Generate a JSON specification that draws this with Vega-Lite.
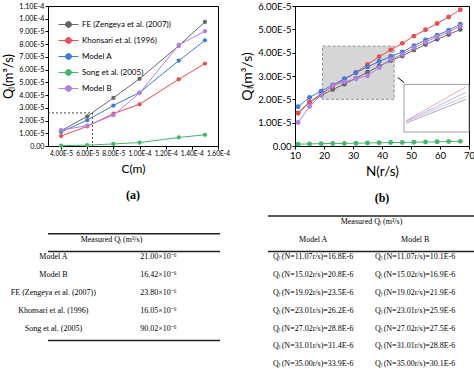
{
  "$schema": "https://vega.github.io/schema/vega-lite/v6.json",
  "padding": {"left": 2, "top": 0, "right": 0, "bottom": 0},
  "background": "white",
  "config": {
    "font": "Lato",
    "view": {"stroke": "#000", "strokeWidth": 1},
    "axis": {"domainColor": "#000", "tickColor": "#000", "labelColor": "#000", "titleColor": "#000", "grid": false, "tickSize": 3, "labelFont": "Lato", "titleFont": "Lato", "titleFontWeight": "normal", "labelPadding": 1, "labelFlush": false}
  },
  "columns": 1,
  "spacing": 8,
  "concat": [
    {
      "bounds": "flush",
      "spacing": 77,
      "hconcat": [
        {
          "width": 170,
          "height": 140,
          "title": {"text": "(a)", "orient": "bottom", "offset": 15, "font": "Liberation Serif", "fontSize": 12, "fontWeight": "bold", "color": "#000"},
          "encoding": {
            "x": {"field": "C", "type": "quantitative", "title": "C(m)",
              "scale": {"domain": [3e-5, 1.6e-4], "nice": false, "zero": false},
              "axis": {"values": [4e-5, 6e-5, 8e-5, 1e-4, 1.2e-4, 1.4e-4, 1.6e-4], "labelFontSize": 6.6, "labelOverlap": false, "labelBound": false, "titleFontSize": 12, "titlePadding": 7,
                "labelExpr": "datum.value == 0 ? '0.00' : replace(format(datum.value, '.2e'), 'e', 'E')"}},
            "y": {"field": "Q", "type": "quantitative", "title": "Qₗ(m³/s)",
              "scale": {"domain": [0, 1.1e-4], "nice": false},
              "axis": {"values": [0, 1e-5, 2e-5, 3e-5, 4e-5, 5e-5, 6e-5, 7e-5, 8e-5, 9e-5, 1e-4, 1.1e-4], "labelFontSize": 7.2, "labelOverlap": false, "titleFontSize": 13, "titlePadding": 3,
                "labelExpr": "datum.value == 0 ? '0.00' : replace(format(datum.value, '.2e'), 'e', 'E')"}}
          },
          "layer": [
            {
              "data": {"values": [
                {"C": 3e-5, "C2": 6.4e-5, "Q": 2.6e-5, "Q2": 2.6e-5},
                {"C": 6.4e-5, "C2": 6.4e-5, "Q": 2.6e-5, "Q2": 0}
              ]},
              "mark": {"type": "rule", "strokeDash": [2, 2], "color": "#444", "strokeWidth": 1},
              "encoding": {"x2": {"field": "C2"}, "y2": {"field": "Q2"}}
            },
            {
              "data": {"values": [
                {"C": 4e-5, "FE": 1.2e-5, "Khonsari": 0.78e-5, "ModelA": 1.1e-5, "Song": 0.02e-5, "ModelB": 1.25e-5},
                {"C": 6e-5, "FE": 2.33e-5, "Khonsari": 1.55e-5, "ModelA": 2.03e-5, "Song": 0.07e-5, "ModelB": 1.6e-5},
                {"C": 8e-5, "FE": 3.78e-5, "Khonsari": 2.54e-5, "ModelA": 3.18e-5, "Song": 0.16e-5, "ModelB": 2.42e-5},
                {"C": 1e-4, "FE": 5.28e-5, "Khonsari": 3.28e-5, "ModelA": 4.2e-5, "Song": 0.27e-5, "ModelB": 4.15e-5},
                {"C": 1.3e-4, "FE": 7.88e-5, "Khonsari": 5.24e-5, "ModelA": 6.7e-5, "Song": 0.67e-5, "ModelB": 7.94e-5},
                {"C": 1.5e-4, "FE": 9.75e-5, "Khonsari": 6.48e-5, "ModelA": 8.3e-5, "Song": 0.88e-5, "ModelB": 9.02e-5}
              ]},
              "transform": [{"fold": ["FE", "Khonsari", "ModelA", "Song", "ModelB"], "as": ["series", "Q"]}],
              "mark": {"type": "line", "strokeWidth": 1, "point": {"filled": true, "size": 18}},
              "encoding": {
                "color": {"field": "series", "type": "nominal",
                  "scale": {"domain": ["FE", "Khonsari", "ModelA", "Song", "ModelB"], "range": ["#666666", "#ee4b4f", "#3b7ddd", "#3fb96a", "#b47ee5"]},
                  "legend": {"orient": "none", "legendX": 10, "legendY": 8, "title": null, "labelFontSize": 8, "labelFont": "Lato", "labelColor": "#000",
                    "symbolType": "M-1,0L1,0M0.3,0A0.3,0.3,0,1,1,-0.3,0A0.3,0.3,0,1,1,0.3,0", "symbolSize": 400, "symbolStrokeWidth": 1,
                    "rowPadding": -7.6, "labelOffset": 3, "padding": 0,
                    "labelExpr": "datum.label == 'FE' ? 'FE (Zengeya et al. (2007))' : datum.label == 'Khonsari' ? 'Khonsari et al. (1996)' : datum.label == 'ModelA' ? 'Model A' : datum.label == 'Song' ? 'Song et al. (2005)' : 'Model B'"}}
              }
            }
          ]
        },
        {
          "width": 174,
          "height": 140,
          "title": {"text": "(b)", "orient": "bottom", "offset": 15, "font": "Liberation Serif", "fontSize": 12, "fontWeight": "bold", "color": "#000"},
          "encoding": {
            "x": {"field": "N", "type": "quantitative", "title": "N(r/s)",
              "scale": {"domain": [10, 70], "nice": false, "zero": false},
              "axis": {"values": [10, 20, 30, 40, 50, 60, 70], "labelFontSize": 9.5, "titleFontSize": 13.5, "titlePadding": 5}},
            "y": {"field": "Q", "type": "quantitative", "title": "Qₗ(m³/s)",
              "scale": {"domain": [0, 6e-5], "nice": false},
              "axis": {"values": [0, 1e-5, 2e-5, 3e-5, 4e-5, 5e-5, 6e-5], "labelFontSize": 9.5, "titleFontSize": 14, "titlePadding": 3,
                "labelExpr": "datum.value == 0 ? '0.00' : replace(format(datum.value, '.2e'), 'e', 'E')"}}
          },
          "layer": [
            {
              "data": {"values": [{"N": 19.5, "N2": 44.2, "Q": 2.0e-5, "Q2": 4.28e-5}]},
              "mark": {"type": "rect", "fill": "#d2d2d2", "fillOpacity": 0.9, "stroke": "#777", "strokeDash": [3, 2], "strokeWidth": 0.8},
              "encoding": {"x2": {"field": "N2"}, "y2": {"field": "Q2"}}
            },
            {
              "data": {"values": [
                {"N": 11.07, "FE": 1.42e-5, "Khonsari": 1.4e-5, "ModelA": 1.68e-5, "Song": 0.08e-5, "ModelB": 1.01e-5},
                {"N": 15.02, "FE": 1.88e-5, "Khonsari": 1.87e-5, "ModelA": 2.08e-5, "Song": 0.09e-5, "ModelB": 1.69e-5},
                {"N": 19.02, "FE": 2.17e-5, "Khonsari": 2.25e-5, "ModelA": 2.35e-5, "Song": 0.1e-5, "ModelB": 2.19e-5},
                {"N": 23.01, "FE": 2.42e-5, "Khonsari": 2.55e-5, "ModelA": 2.62e-5, "Song": 0.11e-5, "ModelB": 2.59e-5},
                {"N": 27.02, "FE": 2.65e-5, "Khonsari": 2.85e-5, "ModelA": 2.88e-5, "Song": 0.11e-5, "ModelB": 2.75e-5},
                {"N": 31.01, "FE": 2.9e-5, "Khonsari": 3.15e-5, "ModelA": 3.14e-5, "Song": 0.12e-5, "ModelB": 2.88e-5},
                {"N": 35.0, "FE": 3.16e-5, "Khonsari": 3.5e-5, "ModelA": 3.39e-5, "Song": 0.13e-5, "ModelB": 3.01e-5},
                {"N": 39, "FE": 3.42e-5, "Khonsari": 3.83e-5, "ModelA": 3.62e-5, "Song": 0.14e-5, "ModelB": 3.36e-5},
                {"N": 43, "FE": 3.66e-5, "Khonsari": 4.12e-5, "ModelA": 3.84e-5, "Song": 0.15e-5, "ModelB": 3.72e-5},
                {"N": 47, "FE": 3.86e-5, "Khonsari": 4.4e-5, "ModelA": 4.03e-5, "Song": 0.15e-5, "ModelB": 3.93e-5},
                {"N": 51, "FE": 4.11e-5, "Khonsari": 4.71e-5, "ModelA": 4.3e-5, "Song": 0.16e-5, "ModelB": 4.21e-5},
                {"N": 55, "FE": 4.35e-5, "Khonsari": 4.98e-5, "ModelA": 4.54e-5, "Song": 0.17e-5, "ModelB": 4.45e-5},
                {"N": 59, "FE": 4.57e-5, "Khonsari": 5.25e-5, "ModelA": 4.75e-5, "Song": 0.18e-5, "ModelB": 4.68e-5},
                {"N": 63, "FE": 4.78e-5, "Khonsari": 5.53e-5, "ModelA": 4.96e-5, "Song": 0.19e-5, "ModelB": 4.88e-5},
                {"N": 67, "FE": 4.99e-5, "Khonsari": 5.84e-5, "ModelA": 5.22e-5, "Song": 0.2e-5, "ModelB": 5.13e-5}
              ]},
              "transform": [{"fold": ["FE", "Khonsari", "ModelA", "Song", "ModelB"], "as": ["series", "Q"]}],
              "mark": {"type": "line", "strokeWidth": 1, "point": {"filled": true, "size": 24}},
              "encoding": {
                "color": {"field": "series", "type": "nominal",
                  "scale": {"domain": ["FE", "Khonsari", "ModelA", "Song", "ModelB"], "range": ["#666666", "#ee4b4f", "#3b7ddd", "#3fb96a", "#b47ee5"]},
                  "legend": {"orient": "none", "legendX": 6, "legendY": 6.5, "title": null, "labelFontSize": 8.5, "labelFont": "Lato", "labelColor": "#000",
                    "symbolType": "M-1,0L1,0M0.3,0A0.3,0.3,0,1,1,-0.3,0A0.3,0.3,0,1,1,0.3,0", "symbolSize": 400, "symbolStrokeWidth": 1,
                    "rowPadding": -7.5, "labelOffset": 3, "padding": 0,
                    "labelExpr": "datum.label == 'FE' ? 'FE (Zengeya et al. (2007))' : datum.label == 'Khonsari' ? 'Khonsari et al. (1996)' : datum.label == 'ModelA' ? 'Model A' : datum.label == 'Song' ? 'Song et al. (2005)' : 'Model B'"}}
              }
            },
            {
              "data": {"values": [{"N": 47.6, "N2": 70, "Q": 0.6e-5, "Q2": 2.64e-5}]},
              "mark": {"type": "rect", "fill": "white", "stroke": "#888", "strokeWidth": 0.8},
              "encoding": {"x2": {"field": "N2"}, "y2": {"field": "Q2"}}
            },
            {
              "data": {"values": [
                {"s": "Khonsari", "N": 48.3, "N2": 69, "Q": 1.09e-5, "Q2": 2.54e-5},
                {"s": "ModelA", "N": 48.3, "N2": 69, "Q": 1.06e-5, "Q2": 2.3e-5},
                {"s": "ModelB", "N": 48.3, "N2": 69, "Q": 1.04e-5, "Q2": 2.13e-5},
                {"s": "FE", "N": 48.3, "N2": 69, "Q": 0.98e-5, "Q2": 2.0e-5}
              ]},
              "mark": {"type": "rule", "strokeWidth": 0.7},
              "encoding": {
                "x2": {"field": "N2"}, "y2": {"field": "Q2"},
                "stroke": {"field": "s", "type": "nominal", "legend": null,
                  "scale": {"domain": ["FE", "Khonsari", "ModelA", "ModelB"], "range": ["#888888", "#f08a8c", "#7fa8e8", "#c9a3ee"]}}
              }
            },
            {
              "data": {"values": [{"N": 45.4, "N2": 47.6, "Q": 2.94e-5, "Q2": 2.72e-5}]},
              "mark": {"type": "rule", "color": "#000", "strokeWidth": 1},
              "encoding": {"x2": {"field": "N2"}, "y2": {"field": "Q2"}}
            }
          ]
        }
      ]
    },
    {
      "bounds": "flush",
      "spacing": 3,
      "hconcat": [
        {
          "width": 217,
          "height": 160,
          "view": {"stroke": null},
          "encoding": {
            "y": {"field": "row", "type": "ordinal", "axis": null,
              "scale": {"type": "band", "domain": [0, 1, 2, 3, 4, 5, 6, 7, 8], "paddingInner": 0, "paddingOuter": 0}}
          },
          "layer": [
            {
              "data": {"values": [{"row": 1}, {"row": 2}, {"row": 7}]},
              "mark": {"type": "rule", "strokeWidth": 1.5, "color": "#222", "yOffset": 3, "xOffset": -45},
              "encoding": {"y": {"field": "row", "type": "ordinal", "bandPosition": 0}}
            },
            {
              "data": {"values": [{"row": 1, "text": "Measured Qₗ (m³/s)"}]},
              "mark": {"type": "text", "font": "Liberation Serif", "fontSize": 8, "color": "#000", "xOffset": -45},
              "encoding": {"text": {"field": "text"}}
            },
            {
              "data": {"values": [
                {"row": 2, "Method": "Model A", "Measured": "21.00×10⁻⁶"},
                {"row": 3, "Method": "Model B", "Measured": "16.42×10⁻⁶"},
                {"row": 4, "Method": "FE (Zengeya et al. (2007))", "Measured": "23.80×10⁻⁶"},
                {"row": 5, "Method": "Khonsari et al. (1996)", "Measured": "16.05×10⁻⁶"},
                {"row": 6, "Method": "Song et al. (2005)", "Measured": "90.02×10⁻⁶"}
              ]},
              "transform": [{"fold": ["Method", "Measured"], "as": ["col", "text"]}],
              "mark": {"type": "text", "font": "Liberation Serif", "fontSize": 8, "color": "#000", "xOffset": -45},
              "encoding": {
                "x": {"field": "col", "type": "ordinal", "axis": null,
                  "scale": {"type": "point", "domain": ["Method", "Measured"], "padding": 0.533, "align": 0.45}},
                "text": {"field": "text"}
              }
            }
          ]
        },
        {
          "width": 207,
          "height": 160,
          "view": {"stroke": null},
          "encoding": {
            "y": {"field": "row", "type": "ordinal", "axis": null,
              "scale": {"type": "band", "domain": [0, 1, 2, 3, 4, 5, 6, 7, 8], "paddingInner": 0, "paddingOuter": 0}}
          },
          "layer": [
            {
              "data": {"values": [{"row": 0}, {"row": 2}]},
              "mark": {"type": "rule", "strokeWidth": 1.5, "color": "#222", "yOffset": 3},
              "encoding": {"y": {"field": "row", "type": "ordinal", "bandPosition": 0}}
            },
            {
              "data": {"values": [{"row": 0, "text": "Measured Qₗ (m³/s)"}]},
              "mark": {"type": "text", "font": "Liberation Serif", "fontSize": 8, "color": "#000"},
              "encoding": {"text": {"field": "text"}}
            },
            {
              "data": {"values": [
                {"row": 1, "A": "Model A", "B": "Model B"},
                {"row": 2, "A": "Qₗ (N=11.07r/s)=16.8E-6", "B": "Qₗ (N=11.07r/s)=10.1E-6"},
                {"row": 3, "A": "Qₗ (N=15.02r/s)=20.8E-6", "B": "Qₗ (N=15.02r/s)=16.9E-6"},
                {"row": 4, "A": "Qₗ (N=19.02r/s)=23.5E-6", "B": "Qₗ (N=19.02r/s)=21.9E-6"},
                {"row": 5, "A": "Qₗ (N=23.01r/s)=26.2E-6", "B": "Qₗ (N=23.01r/s)=25.9E-6"},
                {"row": 6, "A": "Qₗ (N=27.02r/s)=28.8E-6", "B": "Qₗ (N=27.02r/s)=27.5E-6"},
                {"row": 7, "A": "Qₗ (N=31.01r/s)=31.4E-6", "B": "Qₗ (N=31.01r/s)=28.8E-6"},
                {"row": 8, "A": "Qₗ (N=35.00r/s)=33.9E-6", "B": "Qₗ (N=35.00r/s)=30.1E-6"}
              ]},
              "transform": [{"fold": ["A", "B"], "as": ["col", "text"]}],
              "mark": {"type": "text", "font": "Liberation Serif", "fontSize": 8, "color": "#000"},
              "encoding": {
                "x": {"field": "col", "type": "ordinal", "axis": null,
                  "scale": {"type": "point", "domain": ["A", "B"], "padding": 0.515, "align": 0.43}},
                "text": {"field": "text"}
              }
            }
          ]
        }
      ]
    }
  ]
}
